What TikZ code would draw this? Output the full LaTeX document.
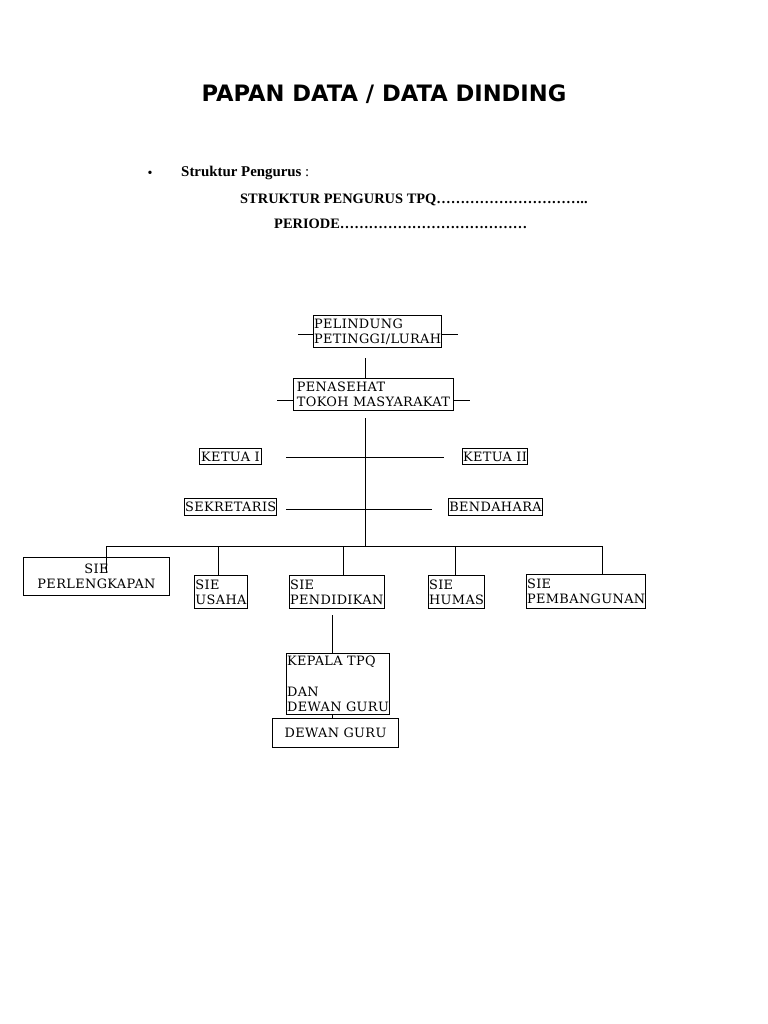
\documentclass[tikz,border=0pt]{standalone}
\usepackage{fontspec}
\setmainfont{Liberation Serif}
\newfontfamily\boxfont{DejaVu Serif}[LetterSpace=3]
\newfontfamily\titlefont{DejaVu Sans}
\usepackage{tikz}
\usetikzlibrary{calc,positioning}

\tikzset{
  pbox/.style 2 args={draw, line width=0.8pt, anchor=north west, align=left,
    inner xsep=0.5pt, inner ysep=1pt,
    minimum width=#1*0.03cm, minimum height=#2*0.03cm,
    font=\boxfont\fontsize{11}{13}\selectfont},
  conn/.style={line width=0.75pt}
}

\begin{document}
\begin{tikzpicture}[x=0.03cm,y=-0.03cm]
\useasboundingbox[fill=white] (0,0) rectangle (768,1024);

% judul
\node[font=\titlefont\bfseries\fontsize{19.3}{21}\selectfont] (judul) at (384,94) {PAPAN DATA / DATA DINDING};
\node[anchor=base, font=\fontsize{12}{14}\selectfont] (bul) at (150,177) {•};
\node[anchor=base west, inner sep=0pt, font=\fontsize{12.7}{14}\selectfont] (sp) at (181,176) {\textbf{Struktur Pengurus} :};
\node[anchor=base west, inner sep=0pt, font=\bfseries\fontsize{12.3}{14}\selectfont] (tpq) at (240,203) {STRUKTUR PENGURUS TPQ…………………………..};
\node[anchor=base west, inner sep=0pt, font=\bfseries\fontsize{12.3}{14}\selectfont] (per) at (274,228) {PERIODE…………………………………};

% kotak
\node[pbox={128}{32}] (pel) at (313,315) {PELINDUNG\\PETINGGI/LURAH};
\node[pbox={160}{32}] (pen) at (293,378) {PENASEHAT\\TOKOH MASYARAKAT};
\node[pbox={62}{16}] (k1) at (199,448) {KETUA I};
\node[pbox={64}{16}] (k2) at (462,448) {KETUA II};
\node[pbox={88}{17}] (sek) at (184,498) {SEKRETARIS};
\node[pbox={94}{17}] (ben) at (448,498) {BENDAHARA};
\node[pbox={146}{38}, align=center] (perl) at (23,557) {SIE\\PERLENGKAPAN};
\node[pbox={53}{33}] (usa) at (194,575) {SIE\\USAHA};
\node[pbox={94}{33}] (pend) at (289,575) {SIE\\PENDIDIKAN};
\node[pbox={55}{33}] (hum) at (428,575) {SIE\\HUMAS};
\node[pbox={119}{34}] (pbg) at (526,574) {SIE\\PEMBANGUNAN};
\node[pbox={102}{61}] (kep) at (286,653) {KEPALA TPQ\\\mbox{}\\DAN\\DEWAN GURU};
\node[pbox={126}{29}, align=center] (dg) at (272,718) {DEWAN GURU};

% garis
\coordinate (s1) at (365,358);
\coordinate (s2) at (365,418);
\coordinate (busL) at (106,546);
\coordinate (busR) at (602,546);
\coordinate (k1a) at (286,457);
\coordinate (k1b) at (444,457);
\coordinate (sa) at (286,509);
\coordinate (sb) at (432,509);
\coordinate (pd) at (332,615);

\draw[conn] ($(pel.west)+(-15,3)$) -- ($(pel.west)+(0,3)$);
\draw[conn] ($(pel.east)+(0,3)$) -- ($(pel.east)+(16,3)$);
\draw[conn] ($(pen.south west)+(-16,-11)$) -- ($(pen.south west)+(0,-11)$);
\draw[conn] ($(pen.south east)+(0,-11)$) -- ($(pen.south east)+(16,-11)$);
\draw[conn] (s1) -- (s1 |- pen.north);
\draw[conn] (s2) -- (s2 |- busL);
\draw[conn] (k1a) -- (k1b);
\draw[conn] (sa) -- (sb);
\draw[conn] (busL) -- (busR);
\draw[conn] (busL) -- ++(0,27);
\foreach \x/\n in {218/usa,343/pend,455/hum,602/pbg}
  \draw[conn] (\x,546) -- (\x,546 |- \n.north);
\draw[conn] (pd) -- (pd |- kep.north);
\draw[conn] (pd |- kep.south) -- (pd |- dg.north);
\end{tikzpicture}
\end{document}
